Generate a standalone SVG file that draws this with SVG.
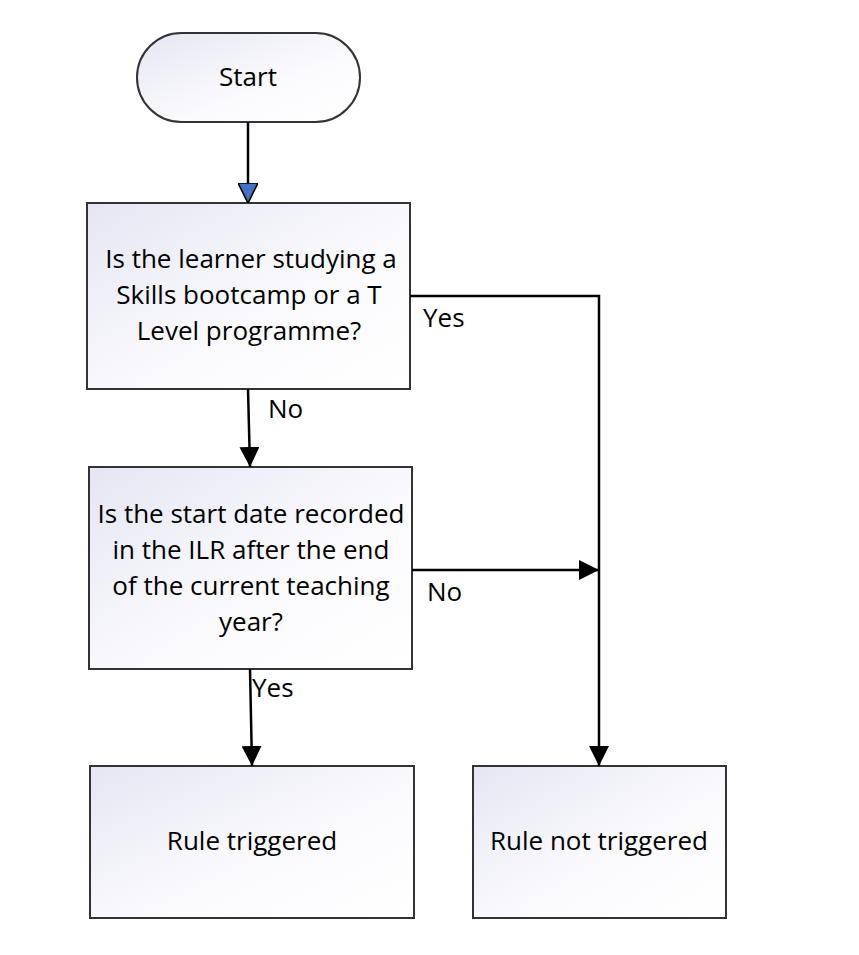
<svg xmlns="http://www.w3.org/2000/svg" width="859" height="955" viewBox="0 0 859 955">
<style>
.node{stroke:#333;stroke-width:2;fill:url(#g)}
.t{font-family:"Open Sans","Liberation Sans",sans-serif;font-size:26px;fill:#000;text-anchor:middle}
.l{font-family:"Open Sans","Liberation Sans",sans-serif;font-size:26px;fill:#000}
.c{stroke:#000;stroke-width:2.5;fill:none}
</style>
<defs>
<linearGradient id="g" x1="0" y1="0" x2="1" y2="1">
<stop offset="0" stop-color="#e6e6f3"/>
<stop offset="0.6" stop-color="#fbfbfe"/>
<stop offset="1" stop-color="#ffffff"/>
</linearGradient>
<marker id="a" markerUnits="userSpaceOnUse" markerWidth="20" markerHeight="20" refX="18" refY="9" orient="auto" viewBox="0 0 18 18">
<path d="M0,0 L18,9 L0,18 Z" fill="#000"/>
</marker>
<marker id="b" markerUnits="userSpaceOnUse" markerWidth="20" markerHeight="20" refX="18" refY="9" orient="auto" viewBox="0 0 18 18">
<path d="M0,0 L18,9 L0,18 Z" fill="#4472c4" stroke="#000" stroke-width="1.5"/>
</marker>
</defs>
<g id="start">
<rect class="node" x="137" y="33" width="223" height="89" rx="44.5" ry="44.5"/>
<text class="t" x="248" y="86">Start</text>
</g>
<g id="q1">
<rect class="node" x="87" y="203" width="323" height="186"/>
<text class="t" x="251" y="268">Is the learner studying a</text>
<text class="t" x="249" y="304">Skills bootcamp or a T</text>
<text class="t" x="249" y="340">Level programme?</text>
</g>
<g id="q2">
<rect class="node" x="89" y="467" width="323" height="202"/>
<text class="t" x="251" y="523">Is the start date recorded</text>
<text class="t" x="251" y="559">in the ILR after the end</text>
<text class="t" x="251" y="595">of the current teaching</text>
<text class="t" x="251" y="631">year?</text>
</g>
<g id="triggered">
<rect class="node" x="90" y="766" width="324" height="152"/>
<text class="t" x="252" y="850">Rule triggered</text>
</g>
<g id="not-triggered">
<rect class="node" x="473" y="766" width="253" height="152"/>
<text class="t" x="599" y="850">Rule not triggered</text>
</g>
<g id="connectors">
<line class="c" x1="248" y1="122" x2="248" y2="203" marker-end="url(#b)"/>
<polyline class="c" points="410,296 599,296 599,766" marker-end="url(#a)"/>
<line class="c" x1="248" y1="389" x2="250" y2="467" marker-end="url(#a)"/>
<line class="c" x1="412" y1="570" x2="599" y2="570" marker-end="url(#a)"/>
<line class="c" x1="250" y1="669" x2="252" y2="766" marker-end="url(#a)"/>
<text class="l" x="423" y="327">Yes</text>
<text class="l" x="268" y="418">No</text>
<text class="l" x="427" y="601">No</text>
<text class="l" x="252" y="697">Yes</text>
</g>
</svg>
